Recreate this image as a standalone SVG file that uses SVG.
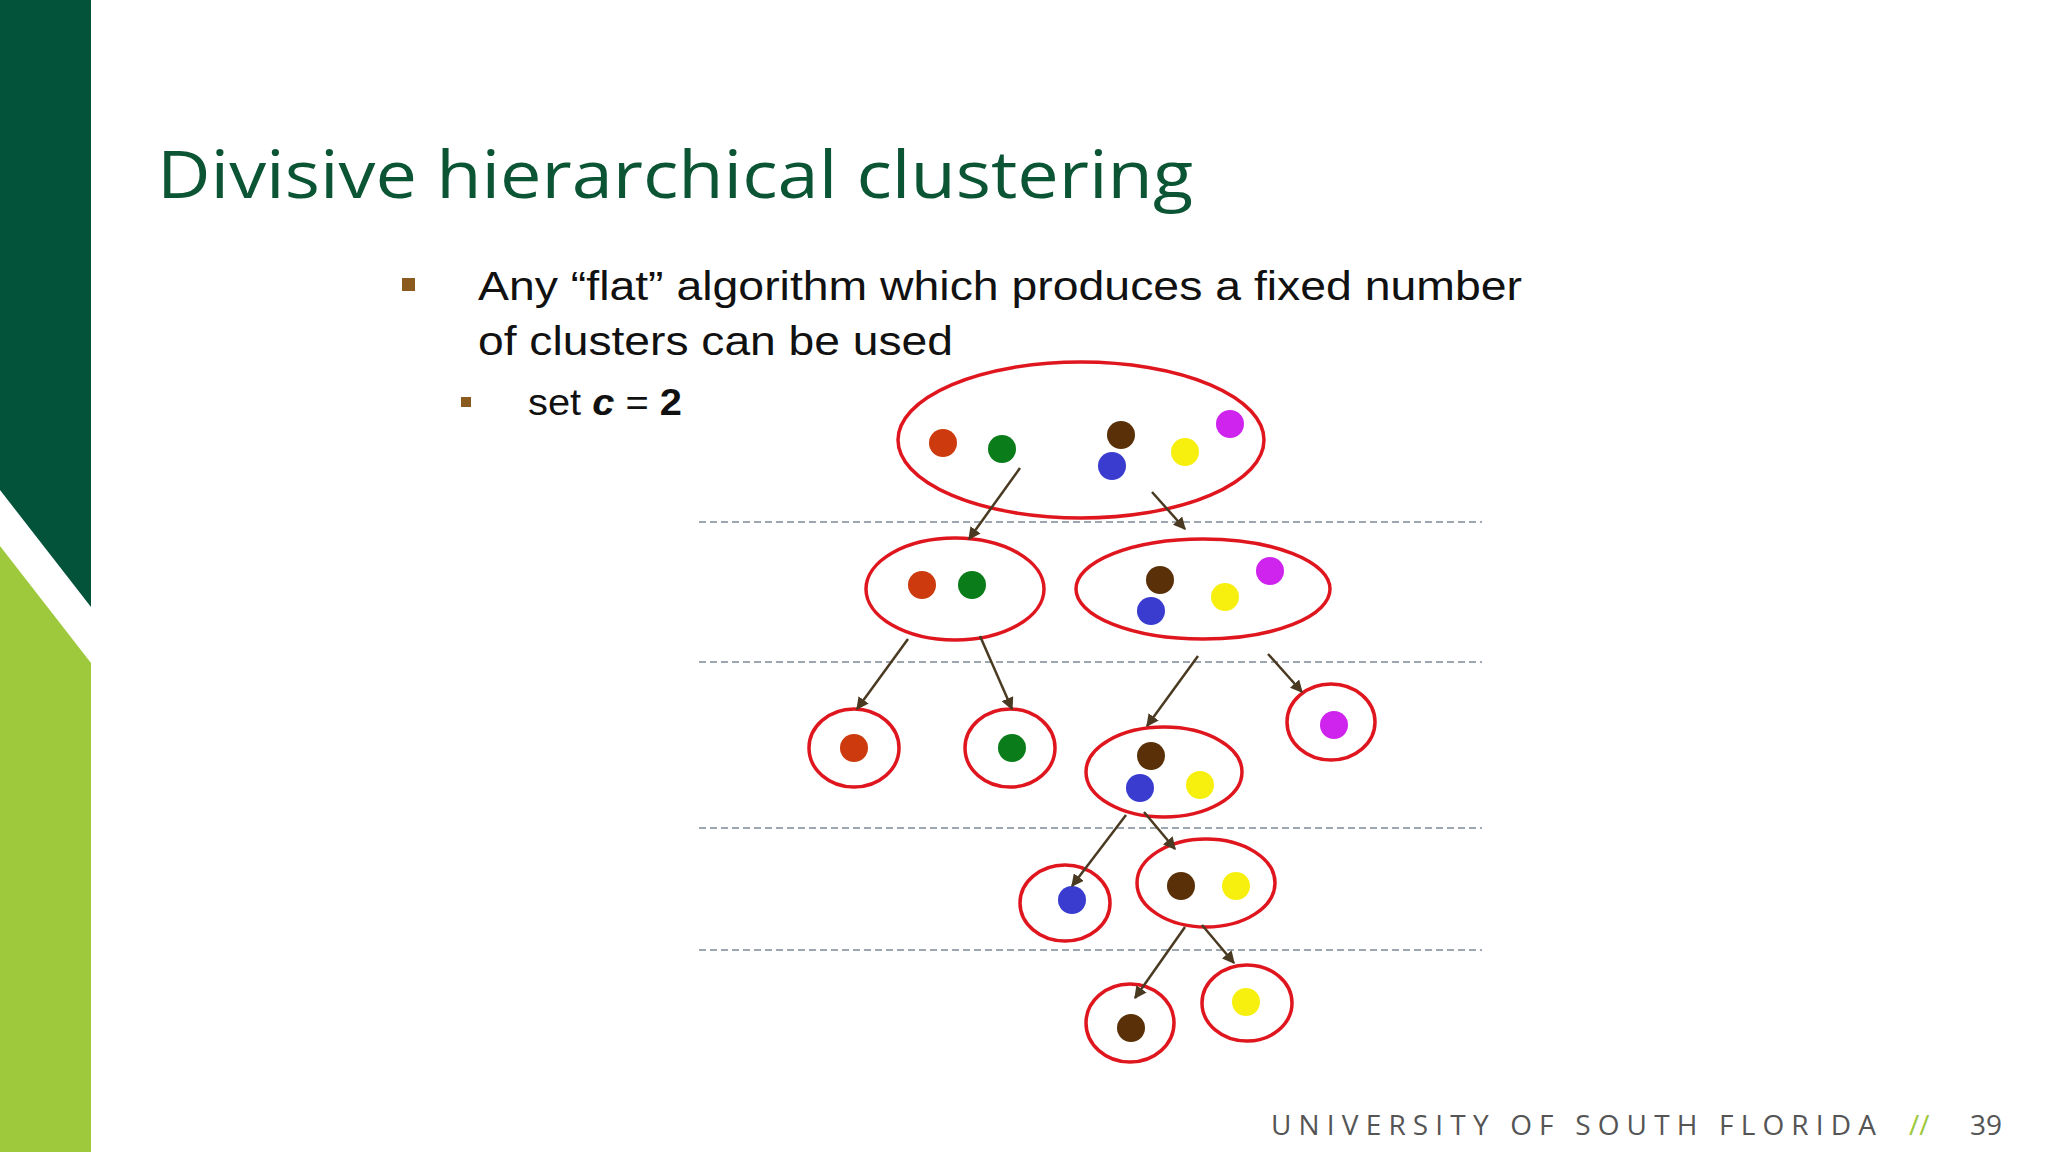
<svg xmlns="http://www.w3.org/2000/svg" width="2048" height="1152" viewBox="0 0 2048 1152">
<defs>
<style>
.cl{fill:none;stroke:#e0161f;stroke-width:3.5}
.dl{stroke:#7d8a99;stroke-width:1.5;stroke-dasharray:7 4}
.ar{stroke:#4a3a22;stroke-width:2.5;marker-end:url(#ah)}
.t{font-family:"Liberation Sans",Arial,sans-serif;fill:#111}
.r{fill:#cc3a0e}.g{fill:#0a7d1a}.b{fill:#5a3008}.u{fill:#3a3ccf}.y{fill:#f7f00f}.m{fill:#cf23ee}
</style>
<marker id="ah" viewBox="0 0 10 10" refX="9" refY="5" markerWidth="5" markerHeight="5" orient="auto"><path d="M0,0L10,5L0,10z" fill="#4a3a22"/></marker>
</defs>
<rect width="2048" height="1152" fill="#fff"/>
<polygon points="0,0 91,0 91,607 0,490" fill="#03523a"/>
<polygon points="0,546 91,663 91,1152 0,1152" fill="#9ec93c"/>
<text x="157" y="198" font-family="'Open Sans','Noto Sans',sans-serif" font-size="66" fill="#0b5535" textLength="1036" lengthAdjust="spacingAndGlyphs">Divisive hierarchical clustering</text>
<rect x="402" y="278" width="13" height="13" fill="#8a5a1e"/>
<text class="t" x="478" y="300" font-size="41" textLength="1044" lengthAdjust="spacingAndGlyphs">Any “flat” algorithm which produces a fixed number</text>
<text class="t" x="478" y="355" font-size="41" textLength="475" lengthAdjust="spacingAndGlyphs">of clusters can be used</text>
<rect x="461" y="397" width="10" height="10" fill="#8a5a1e"/>
<text class="t" x="528" y="415" font-size="36" textLength="154" lengthAdjust="spacingAndGlyphs">set <tspan font-weight="bold" font-style="italic">c</tspan> = <tspan font-weight="bold">2</tspan></text>
<g id="levels">
<line class="dl" x1="699" y1="522" x2="1482" y2="522"/>
<line class="dl" x1="699" y1="662" x2="1482" y2="662"/>
<line class="dl" x1="699" y1="828" x2="1482" y2="828"/>
<line class="dl" x1="699" y1="950" x2="1482" y2="950"/>
</g>
<g id="n1"><ellipse class="cl" cx="1081" cy="440" rx="183" ry="78"/>
<circle class="r" cx="943" cy="443" r="14"/><circle class="g" cx="1002" cy="449" r="14"/><circle class="b" cx="1121" cy="435" r="14"/><circle class="u" cx="1112" cy="466" r="14"/><circle class="y" cx="1185" cy="452" r="14"/><circle class="m" cx="1230" cy="424" r="14"/></g>
<g id="n2"><ellipse class="cl" cx="955" cy="589" rx="89" ry="51"/><circle class="r" cx="922" cy="585" r="14"/><circle class="g" cx="972" cy="585" r="14"/></g>
<g id="n3"><ellipse class="cl" cx="1203" cy="589" rx="127" ry="50"/><circle class="b" cx="1160" cy="580" r="14"/><circle class="u" cx="1151" cy="611" r="14"/><circle class="y" cx="1225" cy="597" r="14"/><circle class="m" cx="1270" cy="571" r="14"/></g>
<g id="n4"><ellipse class="cl" cx="854" cy="748" rx="45" ry="39"/><circle class="r" cx="854" cy="748" r="14"/></g>
<g id="n5"><ellipse class="cl" cx="1010" cy="748" rx="45" ry="39"/><circle class="g" cx="1012" cy="748" r="14"/></g>
<g id="n6"><ellipse class="cl" cx="1164" cy="772" rx="78" ry="45"/><circle class="b" cx="1151" cy="756" r="14"/><circle class="u" cx="1140" cy="788" r="14"/><circle class="y" cx="1200" cy="785" r="14"/></g>
<g id="n7"><ellipse class="cl" cx="1331" cy="722" rx="44" ry="38"/><circle class="m" cx="1334" cy="725" r="14"/></g>
<g id="n8"><ellipse class="cl" cx="1065" cy="903" rx="45" ry="38"/><circle class="u" cx="1072" cy="900" r="14"/></g>
<g id="n9"><ellipse class="cl" cx="1206" cy="883" rx="69" ry="44"/><circle class="b" cx="1181" cy="886" r="14"/><circle class="y" cx="1236" cy="886" r="14"/></g>
<g id="n10"><ellipse class="cl" cx="1130" cy="1023" rx="44" ry="39"/><circle class="b" cx="1131" cy="1028" r="14"/></g>
<g id="n11"><ellipse class="cl" cx="1247" cy="1003" rx="45" ry="38"/><circle class="y" cx="1246" cy="1002" r="14"/></g>
<g id="connectors">
<line class="ar" x1="1020" y1="468" x2="969" y2="539"/>
<line class="ar" x1="1152" y1="492" x2="1185" y2="529"/>
<line class="ar" x1="908" y1="639" x2="857" y2="709"/>
<line class="ar" x1="980" y1="636" x2="1012" y2="709"/>
<line class="ar" x1="1198" y1="656" x2="1147" y2="726"/>
<line class="ar" x1="1268" y1="654" x2="1302" y2="692"/>
<line class="ar" x1="1126" y1="815" x2="1072" y2="886"/>
<line class="ar" x1="1144" y1="812" x2="1175" y2="849"/>
<line class="ar" x1="1185" y1="927" x2="1135" y2="998"/>
<line class="ar" x1="1202" y1="925" x2="1234" y2="963"/>
</g>
<text x="1271" y="1135" font-family="'Open Sans','Noto Sans',sans-serif" font-size="28" fill="#555" textLength="605" lengthAdjust="spacing">UNIVERSITY OF SOUTH FLORIDA</text>
<text x="1909" y="1135" font-family="'Open Sans','Noto Sans',sans-serif" font-size="28" fill="#9ec93c">//</text>
<text x="1970" y="1135" font-family="'Open Sans','Noto Sans',sans-serif" font-size="28" fill="#555">39</text>
</svg>
